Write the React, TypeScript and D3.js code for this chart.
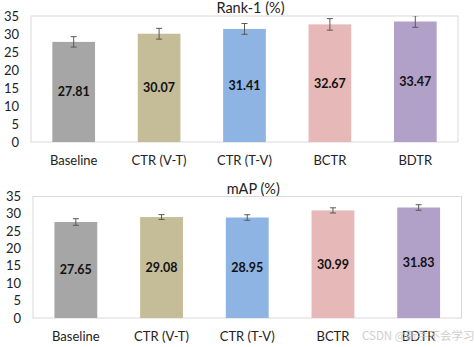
import React from "react";
import * as d3 from "d3";

const categories = ["Baseline", "CTR (V-T)", "CTR (T-V)", "BCTR", "BDTR"];
const colors = ["#a6a6a6", "#c4bd97", "#8db4e2", "#e6b8b7", "#b1a0c7"];
const rank1Values = [27.81, 30.07, 31.41, 32.67, 33.47];
const rank1Errors = [1.45, 1.5, 1.5, 1.6, 1.6];
const mapValues = [27.65, 29.08, 28.95, 30.99, 31.83];
const mapErrors = [0.95, 0.7, 0.8, 0.75, 0.8];
const yTicks = [0, 5, 10, 15, 20, 25, 30, 35];

const FONT = "Lato, 'Open Sans', sans-serif";

type PanelProps = {
  title: string;
  values: number[];
  errors: number[];
  left: number;
  right: number;
  top: number;
  bottom: number;
  id: string;
};

function Panel({ title, values, errors, left, right, top, bottom, id }: PanelProps) {
  const x = d3.scaleBand<string>().domain(categories).range([left, right]).paddingInner(0.5).paddingOuter(0.25);
  const y = d3.scaleLinear().domain([0, 35]).range([bottom, top]);
  const bw = x.bandwidth();
  return (
    <g>
      <defs>
        <clipPath id={id}>
          <rect x={left} y={top} width={right - left} height={bottom - top} />
        </clipPath>
      </defs>
      <rect x={left} y={top} width={right - left} height={bottom - top} fill="#fff" stroke="#d9d9d9" strokeWidth={1} />
      <text x={(left + right) / 2 + 6} y={top - 3} textAnchor="middle" fontSize={14.5} fontFamily={FONT} fill="#222">
        {title}
      </text>
      {yTicks.map((t) => (
        <text key={t} x={left - 12} y={y(t)} dy="0.35em" textAnchor="end" fontSize={13} fontFamily={FONT} fill="#222">
          {t}
        </text>
      ))}
      {categories.map((c, i) => {
        const x0 = x(c)!;
        const cx = x0 + bw / 2;
        const v = values[i];
        const e = errors[i];
        return (
          <g key={c}>
            <rect x={x0} y={y(v)} width={bw} height={y(0) - y(v)} fill={colors[i]} />
            <g clipPath={`url(#${id})`} stroke="#595959" strokeWidth={1}>
              <line x1={cx} x2={cx} y1={y(v + e)} y2={y(v - e)} />
              <line x1={cx - 3} x2={cx + 3} y1={y(v + e)} y2={y(v + e)} />
              <line x1={cx - 3} x2={cx + 3} y1={y(v - e)} y2={y(v - e)} />
            </g>
            <text x={cx} y={(y(v) + y(0)) / 2} dy="0.35em" textAnchor="middle" fontSize={12.5} fontWeight="bold" fontFamily={FONT} fill="#111">
              {v.toFixed(2)}
            </text>
            <text x={cx} y={bottom + 18} dy="0.35em" textAnchor="middle" fontSize={13} fontFamily={FONT} fill="#222">
              {c}
            </text>
          </g>
        );
      })}
    </g>
  );
}

export default function App() {
  return (
    <svg width={474} height={347} style={{ position: "absolute", left: 0, top: 0, background: "#fff" }}>
      <rect width={474} height={347} fill="#fff" />
      <Panel id="c1" title="Rank-1 (%)" values={rank1Values} errors={rank1Errors} left={31} right={458} top={16} bottom={142} />
      <Panel id="c2" title="mAP (%)" values={mapValues} errors={mapErrors} left={33} right={461.5} top={196.5} bottom={318} />
      <text x={362} y={336} dy="0.35em" fontSize={11.5} fontFamily="'Noto Sans CJK SC', sans-serif" fill="#c8c8c8" opacity={0.85}>
        CSDN @新手不会学习
      </text>
    </svg>
  );
}
